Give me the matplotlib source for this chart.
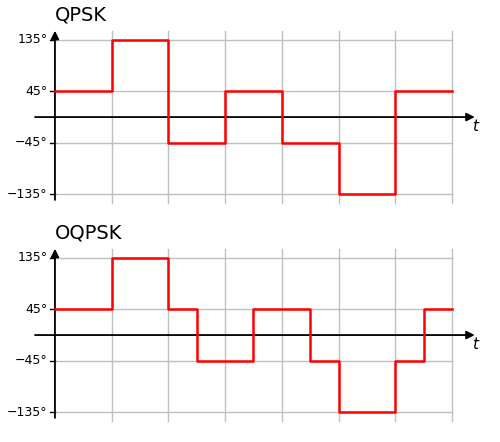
import matplotlib
matplotlib.use("Agg")
import matplotlib.pyplot as plt

qpsk_x = [0, 1, 2, 3, 4, 5, 6, 7]
qpsk_y = [45, 135, -45, 45, -45, -135, 45]
oqpsk_x = [0, 1, 2, 2.5, 3.5, 4.5, 5, 6, 6.5, 7]
oqpsk_y = [45, 135, 45, -45, 45, -45, -135, -45, 45]
ticks = [135, 45, -45, -135]
tick_labels = ["135°", "45°", "\u221245°", "\u2212135°"]
titles = ["QPSK", "OQPSK"]

fig = plt.figure(figsize=(5, 4.42), dpi=100)

def panel(bottom, xs, ys, title):
    ax = fig.add_axes([0.06, bottom, 0.92, 0.4186])
    ax.set_xlim(-0.44, 7.67)
    ax.set_ylim(-154, 170)
    ax.axis("off")
    for x in range(1, 8):
        ax.plot([x, x], [-150, 150], color="#c0c0c0", lw=1, zorder=1)
    for t in ticks:
        ax.plot([0, 7], [t, t], color="#c0c0c0", lw=1, zorder=1)
        ax.plot([-0.08, 0], [t, t], color="black", lw=1)
    for t, l in zip(ticks, tick_labels):
        ax.text(-0.13, t, l, ha="right", va="center", fontsize=9)
    ax.annotate("", xy=(7.45, 0), xytext=(-0.4, 0),
                arrowprops=dict(arrowstyle="-|>", color="black", lw=1.3, mutation_scale=12))
    ax.annotate("", xy=(0, 156), xytext=(0, -150),
                arrowprops=dict(arrowstyle="-|>", color="black", lw=1.3, mutation_scale=12))
    ax.text(7.4, -16, "t", style="italic", fontsize=11, ha="center", va="center")
    ax.step(xs, ys + [ys[-1]], where="post", color="red", lw=1.8, zorder=3)
    ax.text(0, 178, title, fontsize=14, ha="left", va="center", clip_on=False)

panel(0.5362, qpsk_x, qpsk_y, titles[0])
panel(0.043, oqpsk_x, oqpsk_y, titles[1])
fig.savefig("out.png", dpi=100)
